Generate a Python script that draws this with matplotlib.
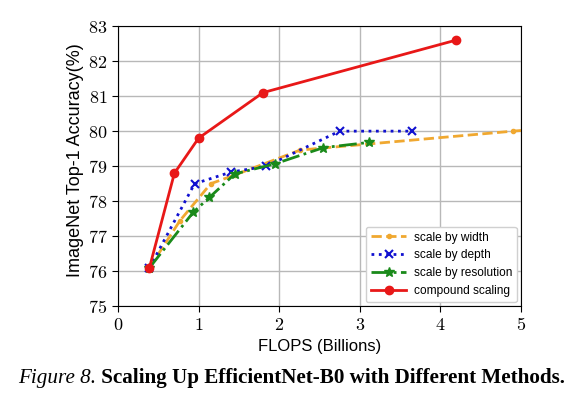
import matplotlib
matplotlib.use("Agg")
import matplotlib.pyplot as plt
from matplotlib.ticker import FuncFormatter

plt.rcParams['mathtext.fontset'] = 'cm'
plt.rcParams['font.family'] = ['Liberation Sans', 'DejaVu Sans']

# Data (FLOPS in billions, top-1 accuracy %)
width_flops = [0.39, 0.77, 1.15, 1.45, 2.26, 4.9, 6.0]
width_acc = [76.1, 77.45, 78.5, 78.75, 79.46, 80.0, 80.2]
depth_flops = [0.39, 0.95, 1.40, 1.84, 2.75, 3.65]
depth_acc = [76.1, 78.5, 78.83, 79.0, 80.0, 80.0]
res_flops = [0.39, 0.935, 1.135, 1.45, 1.95, 2.55, 3.12]
res_acc = [76.1, 77.69, 78.11, 78.78, 79.07, 79.53, 79.68]
comp_flops = [0.39, 0.70, 1.0, 1.80, 4.2]
comp_acc = [76.1, 78.8, 79.8, 81.1, 82.6]

labels = ['scale by width', 'scale by depth', 'scale by resolution', 'compound scaling']
xticks = [0, 1, 2, 3, 4, 5]
yticks = [75, 76, 77, 78, 79, 80, 81, 82, 83]

fig = plt.figure(figsize=(5.75, 4.0), dpi=100)
ax = fig.add_axes([0.2052, 0.234, 0.906 - 0.2052, 0.935 - 0.234])

ax.plot(width_flops, width_acc, linestyle='--', color='#f0a830', marker='.', markersize=6,
        linewidth=2, label=labels[0])
ax.plot(depth_flops, depth_acc, linestyle=':', color='#1010d0', marker='x', markersize=6,
        markeredgewidth=1.5, linewidth=2, label=labels[1])
ax.plot(res_flops, res_acc, linestyle='-.', color='#1a8a1a', marker='*', markersize=7,
        linewidth=2, label=labels[2])
ax.plot(comp_flops, comp_acc, linestyle='-', color='#e81818', marker='o', markersize=6,
        linewidth=2, label=labels[3])

ax.set_xlim(0, 5)
ax.set_ylim(75, 83)
ax.set_xticks(xticks)
ax.set_yticks(yticks)
fmt = FuncFormatter(lambda v, p: r'$%d$' % round(v))
ax.xaxis.set_major_formatter(fmt)
ax.yaxis.set_major_formatter(fmt)
ax.tick_params(labelsize=13, length=4, direction='out')
ax.grid(True, color='#b8b8b8', linewidth=1)
ax.set_axisbelow(True)

ax.set_xlabel('FLOPS (Billions)', fontsize=12, labelpad=4)
ax.set_ylabel('ImageNet Top-1 Accuracy(%)', fontsize=13, labelpad=4)
ax.yaxis.set_label_coords(-0.085, 0.52)

leg = ax.legend(loc='lower right', fontsize=8.6, handlelength=3.0, handletextpad=0.6,
                borderaxespad=0.35, framealpha=1.0, edgecolor='#d0d0d0', labelspacing=0.5)

# Caption with mixed italic/bold
fig.canvas.draw()
r = fig.canvas.get_renderer()
t1 = fig.text(0, 0.055, 'Figure 8.', family='Liberation Serif', style='italic', fontsize=15.2,
              va='center', ha='left')
t2 = fig.text(0, 0.055, ' Scaling Up EfficientNet-B0 with Different Methods.',
              family='Liberation Serif', weight='bold', fontsize=15.2, va='center', ha='left')
w1 = t1.get_window_extent(r).width
w2 = t2.get_window_extent(r).width
W = fig.bbox.width
x0 = (W - (w1 + w2)) / 2 + 4
t1.set_x(x0 / W)
t2.set_x((x0 + w1) / W)

fig.savefig('out.png', dpi=100)
